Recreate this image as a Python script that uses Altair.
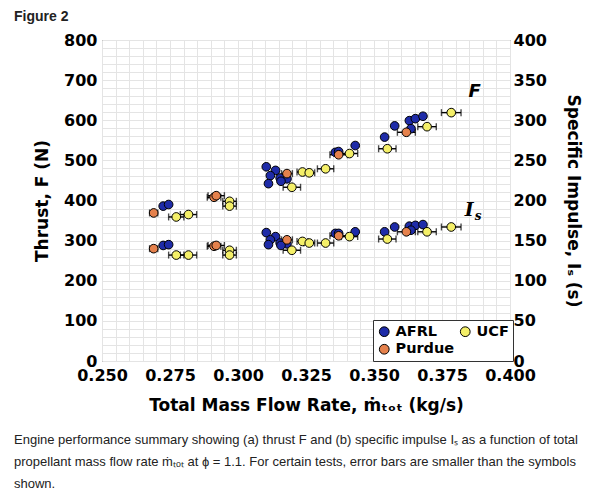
import altair as alt
import numpy as np
import pandas as pd

# AFRL tests (no error bars drawn)
afrl_mdot = [0.2725, 0.2745, 0.3104, 0.3138, 0.3119, 0.3155, 0.3180, 0.3112, 0.3158,
             0.3358, 0.3370, 0.3431, 0.3539, 0.3576, 0.3630, 0.3652, 0.3680, 0.3636]
afrl_thrust = [386, 390, 484, 475, 462, 456, 454, 442, 448,
               520, 522, 537, 558, 586, 599, 604, 610, 579]
afrl_isp = [144, 145, 160, 155, 151, 147, 146, 145, 144,
            159, 159, 161, 161, 167, 168, 169, 170, 163]

# Purdue tests
purdue_mdot = [0.2690, 0.2912, 0.2920, 0.3180, 0.3370, 0.3619]
purdue_thrust = [369, 408, 412, 467, 514, 570]
purdue_isp = [140, 143, 144, 151, 156, 161]
purdue_err = [0.0015, 0.0025, 0.0030, 0.0020, 0.0032, 0.0033]

# UCF tests
ucf_mdot = [0.2773, 0.2818, 0.2969, 0.2969, 0.3198, 0.3237, 0.3262, 0.3322,
            0.3410, 0.3549, 0.3695, 0.3784]
ucf_thrust = [359, 365, 398, 386, 433, 471, 469, 479, 517, 529, 584, 619]
ucf_isp = [132, 132, 138, 132, 138, 149, 147, 147, 155, 152, 161, 167]
ucf_err = [0.0028, 0.0030, 0.0025, 0.0025, 0.0032, 0.0020, 0.0020, 0.0030,
           0.0030, 0.0032, 0.0034, 0.0036]

# legend fills column by column: AFRL, Purdue | UCF
sources = ['AFRL', 'Purdue', 'UCF']
colours = ['#1e2ba8', '#e5814c', '#f4ef68']

x_ticks = [round(0.25 + 0.005 * i, 3) for i in range(31)]
f_ticks = list(range(0, 801, 20))
isp_ticks = list(range(0, 401, 50))

# annotation labels (placed on the thrust scale)
label_mdot = [0.3870, 0.3850]
label_thrust = [671, 377]

caption = [
    'Engine performance summary showing (a) thrust F and (b) specific impulse Iₛ as a function of total',
    'propellant mass flow rate ṁₜₒₜ at ϕ = 1.1. For certain tests, error bars are smaller than the symbols',
    'shown.',
]

rows = []
for m, f, s in zip(afrl_mdot, afrl_thrust, afrl_isp):
    rows.append({'source': 'AFRL', 'mdot': m, 'thrust': f, 'isp': s, 'err': 0.0})
for m, f, s, e in zip(purdue_mdot, purdue_thrust, purdue_isp, purdue_err):
    rows.append({'source': 'Purdue', 'mdot': m, 'thrust': f, 'isp': s, 'err': e})
for m, f, s, e in zip(ucf_mdot, ucf_thrust, ucf_isp, ucf_err):
    rows.append({'source': 'UCF', 'mdot': m, 'thrust': f, 'isp': s, 'err': e})
df = pd.DataFrame(rows)
df['lo'] = df['mdot'] - df['err']
df['hi'] = df['mdot'] + df['err']

FONT = 'DejaVu Sans'
GRID = '#e4e4e4'

x_scale = alt.Scale(domain=[0.25, 0.40], nice=False, zero=False)
x_axis = alt.Axis(values=x_ticks, grid=True, gridColor=GRID, ticks=False, domain=False,
                  labelExpr="round(datum.value * 1000) % 25 === 0 ? format(datum.value, '.3f') : ''",
                  labelOverlap=False, labelFlush=False, labelPadding=6,
                  labelFont=FONT, labelFontSize=16, labelFontWeight='bold', labelColor='black',
                  title='Total Mass Flow Rate, ṁₜₒₜ (kg/s)', titleFont=FONT, titleFontSize=17,
                  titleFontWeight='bold', titleColor='black', titlePadding=14)
f_scale = alt.Scale(domain=[0, 800], nice=False)
f_axis = alt.Axis(values=f_ticks, grid=True, gridColor=GRID, ticks=False, domain=False,
                  labelExpr="datum.value % 100 === 0 ? datum.label : ''",
                  labelOverlap=False, labelPadding=5,
                  labelFont=FONT, labelFontSize=16, labelFontWeight='bold', labelColor='black',
                  title='Thrust, F (N)', titleFont=FONT, titleFontSize=17,
                  titleFontWeight='bold', titleColor='black', titlePadding=12)
isp_scale = alt.Scale(domain=[0, 400], nice=False)
isp_axis = alt.Axis(values=isp_ticks, orient='right', grid=False, ticks=False, domain=False,
                    labelOverlap=False, labelPadding=3,
                    labelFont=FONT, labelFontSize=16, labelFontWeight='bold', labelColor='black',
                    title='Specific Impulse, Iₛ (s)', titleFont=FONT, titleFontSize=17,
                    titleFontWeight='bold', titleColor='black', titlePadding=17)

legend = alt.Legend(title=None, orient='none', legendX=271, legendY=280, columns=2,
                    fillColor='white', strokeColor='#333', padding=4,
                    symbolType='circle', symbolSize=95, symbolStrokeColor='black',
                    symbolStrokeWidth=1, labelFont=FONT, labelFontSize=14.5,
                    labelFontWeight='bold', labelColor='black', labelOffset=4,
                    columnPadding=3, rowPadding=2)
colour = alt.Color('source:N', scale=alt.Scale(domain=sources, range=colours), legend=legend)

base = alt.Chart(df)
errs = base.transform_filter('datum.err > 0')
caps = errs.transform_fold(['lo', 'hi'], as_=['end', 'xe'])


def panel(field, scale, axis):
    y = alt.Y(f'{field}:Q', scale=scale, axis=axis)
    rule = errs.mark_rule(color='black', strokeWidth=1.4).encode(
        x=alt.X('lo:Q', scale=x_scale, axis=x_axis), x2='hi:Q', y=y)
    tick = caps.mark_tick(color='black', orient='vertical', size=7, thickness=1.4).encode(
        x=alt.X('xe:Q', scale=x_scale, axis=x_axis), y=y)
    pts = base.mark_point(filled=True, size=75, stroke='black', strokeWidth=1, opacity=1).encode(
        x=alt.X('mdot:Q', scale=x_scale, axis=x_axis), y=y, color=colour)
    return [rule, tick, pts]


labels = alt.Chart(pd.DataFrame({'mdot': label_mdot, 'thrust': label_thrust,
                                 'txt': ['F', 'I']}))
f_text = labels.transform_filter("datum.txt == 'F'").mark_text(
    font=FONT, fontSize=18, fontWeight='bold', fontStyle='italic', color='black').encode(
    x=alt.X('mdot:Q', scale=x_scale, axis=x_axis),
    y=alt.Y('thrust:Q', scale=f_scale, axis=f_axis), text='txt:N')
i_text = labels.transform_filter("datum.txt == 'I'").mark_text(
    font='DejaVu Serif', fontSize=19, fontWeight='bold', fontStyle='italic', color='black').encode(
    x=alt.X('mdot:Q', scale=x_scale, axis=x_axis),
    y=alt.Y('thrust:Q', scale=f_scale, axis=f_axis), text='txt:N')
s_text = labels.transform_filter("datum.txt == 'I'").mark_text(
    font='DejaVu Serif', fontSize=12, fontWeight='bold', fontStyle='italic', color='black',
    dx=9, dy=6, text='s').encode(
    x=alt.X('mdot:Q', scale=x_scale, axis=x_axis),
    y=alt.Y('thrust:Q', scale=f_scale, axis=f_axis))

f_layer = alt.layer(*panel('thrust', f_scale, f_axis), f_text, i_text, s_text)
isp_layer = alt.layer(*panel('isp', isp_scale, isp_axis))

one = pd.DataFrame({'a': [0]})
fig_title = alt.Chart(one).mark_text(
    text='Figure 2', font='Liberation Sans', fontSize=14, fontWeight='bold',
    align='left', baseline='middle', color='#222').encode(x=alt.value(-88), y=alt.value(-23))
cap_text = alt.Chart(one).mark_text(
    text=caption, font='Liberation Sans', fontSize=13, lineHeight=22,
    align='left', baseline='middle', color='#222').encode(x=alt.value(-88), y=alt.value(400))

chart = alt.layer(f_layer, isp_layer, fig_title, cap_text).resolve_scale(
    y='independent'
).properties(
    width=408, height=321,
    padding={'left': 94, 'top': 32, 'right': 80, 'bottom': 133},
    autosize=alt.AutoSizeParams(type='none'),
).configure_view(
    stroke='#444', strokeWidth=1
)

chart.save("out.html", embed_options={"renderer": "svg", "actions": False})
